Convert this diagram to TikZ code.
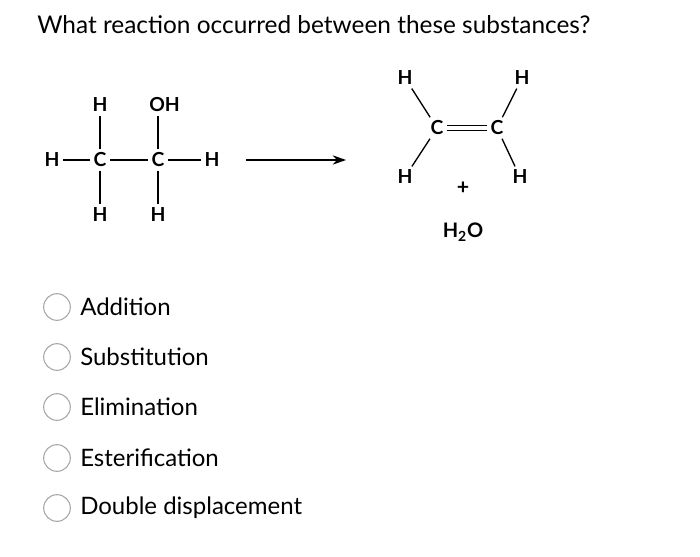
\documentclass[tikz,border=0pt]{standalone}
\usepackage{fontspec}
\setmainfont{Lato}
\usetikzlibrary{arrows.meta}
\begin{document}
\begin{tikzpicture}[x=0.75pt,y=-0.75pt,
  atom/.style={font=\bfseries\fontsize{14.5}{16}\selectfont,inner sep=2.5pt},
  bond/.style={line width=1pt},
  opt/.style={draw=gray!70,line width=0.8pt,circle,minimum size=20pt,inner sep=0pt},
  optl/.style={anchor=west,font=\fontsize{18}{21}\selectfont,inner sep=0pt}]
\useasboundingbox (0,0) rectangle (700,557);
\node[anchor=west,font=\fontsize{18.3}{22}\selectfont,inner sep=0pt] (title) at (37,25) {What reaction occurred between these substances?};
% ethanol
\node[atom] (h1) at (52,160) {H};
\node[atom] (c1) at (100,160) {C};
\node[atom] (c2) at (158,160) {C};
\node[atom] (h2) at (212,160) {H};
\node[atom] (h3) at (100,105) {H};
\node[atom,anchor=west,inner sep=0pt] (oh) at (149,105) {OH};
\coordinate (o) at (158,116);
\node[atom] (h4) at (100,215) {H};
\node[atom] (h5) at (158,215) {H};
\draw[bond] (h1) -- (c1);
\draw[bond] (c1) -- (c2);
\draw[bond] (c2) -- (h2);
\draw[bond] (h3) -- (c1);
\draw[bond] (c1) -- (h4);
\draw[bond] (o) -- (c2);
\draw[bond] (c2) -- (h5);
% arrow
\coordinate (a1) at (246,160);
\coordinate (a2) at (346,160);
\draw[line width=1pt,-{Stealth[length=10pt,width=7pt]}] (a1) -- (a2);
% ethene
\node[atom] (e1) at (437,128) {C};
\node[atom] (e2) at (497,128) {C};
\node[atom] (t1) at (405,78) {H};
\node[atom] (t2) at (522,78) {H};
\node[atom] (b1) at (405,177) {H};
\node[atom] (b2) at (520,177) {H};
\draw[bond] ([yshift=-2pt]e1.east) -- ([yshift=-2pt]e2.west);
\draw[bond] ([yshift=2pt]e1.east) -- ([yshift=2pt]e2.west);
\draw[bond] (t1) -- (e1);
\draw[bond] (t2) -- (e2);
\draw[bond] (b1) -- (e1);
\draw[bond] (b2) -- (e2);
\node[atom,font=\bfseries\fontsize{16}{18}\selectfont] (plus) at (463,188) {+};
\node[atom,font=\bfseries\fontsize{15}{17}\selectfont] (w) at (463,232) {H\textsubscript{2}O};
% options
\foreach \i/\t/\yy in {1/Addition/307,2/Substitution/357,3/Elimination/407,4/Esterification/458,5/Double displacement/508}{
  \node[opt] (c\i) at (57,\yy) {};
  \node[optl] (l\i) at (80,\yy) {\t};
}
\end{tikzpicture}
\end{document}
